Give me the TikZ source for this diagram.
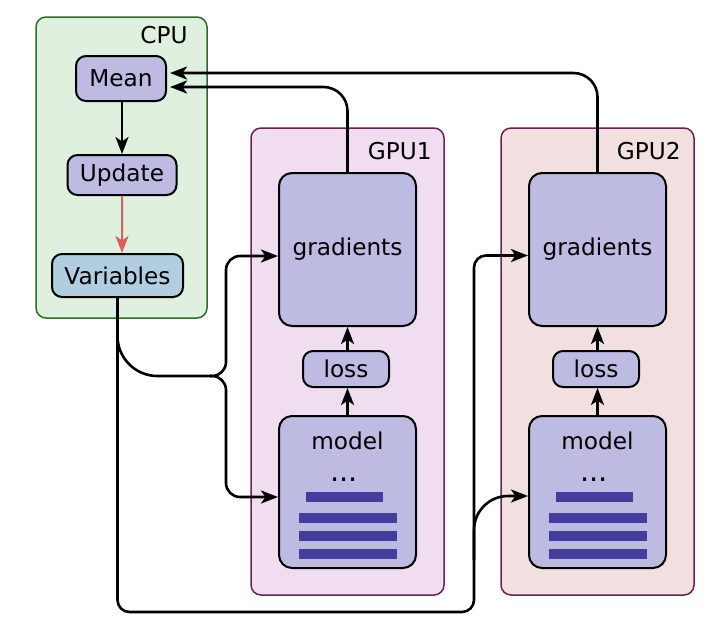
\documentclass[tikz,border=0pt]{standalone}
\usepackage{fontspec}
\setmainfont{DejaVu Sans}
\usetikzlibrary{arrows.meta}
\usetikzlibrary{calc}

\definecolor{cpuFill}{RGB}{223,240,223}
\definecolor{cpuDraw}{RGB}{42,110,42}
\definecolor{gpu1Fill}{RGB}{240,222,240}
\definecolor{gpu2Fill}{RGB}{242,223,223}
\definecolor{gpuDraw}{RGB}{104,34,84}
\definecolor{opFill}{RGB}{189,187,226}
\definecolor{varFill}{RGB}{176,206,224}
\definecolor{barFill}{RGB}{67,61,155}
\definecolor{redArrow}{RGB}{216,96,96}

\begin{document}
\begin{tikzpicture}[x=0.5pt, y=-0.5pt, font=\fontsize{11.6}{14}\selectfont]
	\tikzstyle{boxStyle} = [shape = rectangle, rounded corners = 5pt, line width = 0.75pt, inner sep = 0pt, outer sep = 0pt]
	\tikzstyle{cpuStyle} = [boxStyle, draw = cpuDraw, fill = cpuFill]
	\tikzstyle{gpuStyle} = [boxStyle, draw = gpuDraw]
	\tikzstyle{nameStyle} = [anchor = base east, inner sep = 0pt]
	\tikzstyle{opStyle} = [shape = rectangle, rounded corners = 5pt, draw, line width = 1pt, fill = opFill, inner sep = 0pt]
	\tikzstyle{bigOpStyle} = [opStyle, rounded corners = 6.5pt, minimum width = 68.5pt]
	\tikzstyle{barStyle} = [shape = rectangle, fill = barFill, inner sep = 0pt, minimum height = 5pt]
	\tikzstyle{wireStyle} = [line width = 1.3pt]
	\tikzstyle{linkStyle} = [wireStyle, -{Stealth[length = 8.5pt, width = 6.5pt, inset = 2.2pt]}]
	\useasboundingbox (0,0) rectangle (711,628);
	% devices
	\node[cpuStyle, minimum width = 85.5pt, minimum height = 150.5pt] (cpu) at (121.5,167.5) {};
	\node[gpuStyle, fill = gpu1Fill, minimum width = 96.5pt, minimum height = 233.5pt] (gpu1) at (347.5,361.5) {};
	\node[gpuStyle, fill = gpu2Fill, minimum width = 96.5pt, minimum height = 233.5pt] (gpu2) at (597.5,361.5) {};
	\node[nameStyle] (cpuName) at (188,43) {CPU};
	\node[nameStyle] (gpu1Name) at (432,159) {GPU1};
	\node[nameStyle] (gpu2Name) at (681,159) {GPU2};
	% cpu ops
	\node[opStyle, minimum width = 45pt, minimum height = 22.5pt] (mean) at (121,78.5) {Mean};
	\node[opStyle, minimum width = 54.5pt, minimum height = 20pt] (update) at (122,175) {Update};
	\node[opStyle, fill = varFill, minimum width = 65.5pt, minimum height = 21.5pt] (variables) at (117.5,275.5) {Variables};
	\draw[linkStyle] (update.north |- mean.south) -- (update.north);
	\draw[linkStyle, draw = redArrow] (update.south) -- (update.south |- variables.north);
	% gpu ops
	\foreach \i/\dx in {1/0, 2/250} {
		\node[bigOpStyle, minimum height = 76.5pt] (grad\i) at (347.5+\dx,249.5) {gradients};
		\node[opStyle, minimum width = 43pt, minimum height = 18pt] (loss\i) at (346+\dx,369) {loss};
		\node[bigOpStyle, minimum height = 76pt] (model\i) at (347.5+\dx,492) {};
		\node (modelName\i) at (347.5+\dx,441) {model};
		\node[anchor = base, font = \fontsize{14.5}{16}\selectfont] (dots\i) at (344+\dx,481) {...};
		\node[barStyle, minimum width = 38.8pt] (barA\i) at (344.5+\dx,497.3) {};
		\node[barStyle, minimum width = 48.7pt] (barB\i) at (348+\dx,518.3) {};
		\node[barStyle, minimum width = 48.7pt] (barC\i) at (348+\dx,536) {};
		\node[barStyle, minimum width = 48.7pt] (barD\i) at (348+\dx,553.8) {};
		\draw[linkStyle] (model\i.north) -- (model\i.north |- loss\i.south);
		\draw[linkStyle] (model\i.north |- loss\i.north) -- (grad\i.south);
	}
	% gradients back to mean
	\draw[linkStyle, rounded corners = 12pt] (grad2.north) |- ($(mean.east)+(3,-5.5)$);
	\draw[linkStyle, rounded corners = 12pt] (grad1.north) |- ($(mean.east)+(3,8.5)$);
	% variables out to the gpus
	\coordinate (fork1) at (210,376);
	\coordinate (bus1) at (226,376);
	\coordinate (bus2) at (474,612);
	\coordinate (tap2) at (474,560);
	\draw[wireStyle, rounded corners = 20pt] (variables.south) |- (fork1);
	\draw[linkStyle, rounded corners = 7pt] (fork1) -- (bus1) |- ($(grad1.west)+(0,6.5)$);
	\draw[linkStyle, rounded corners = 7pt] (fork1) -- (bus1) |- ($(model1.west)+(0,5)$);
	\draw[linkStyle, rounded corners = 6pt] (variables.south) |- (bus2) |- ($(grad2.west)+(0,6)$);
	\draw[linkStyle, rounded corners = 17pt] (tap2) |- ($(model2.west)+(0,4)$);
\end{tikzpicture}
\end{document}
